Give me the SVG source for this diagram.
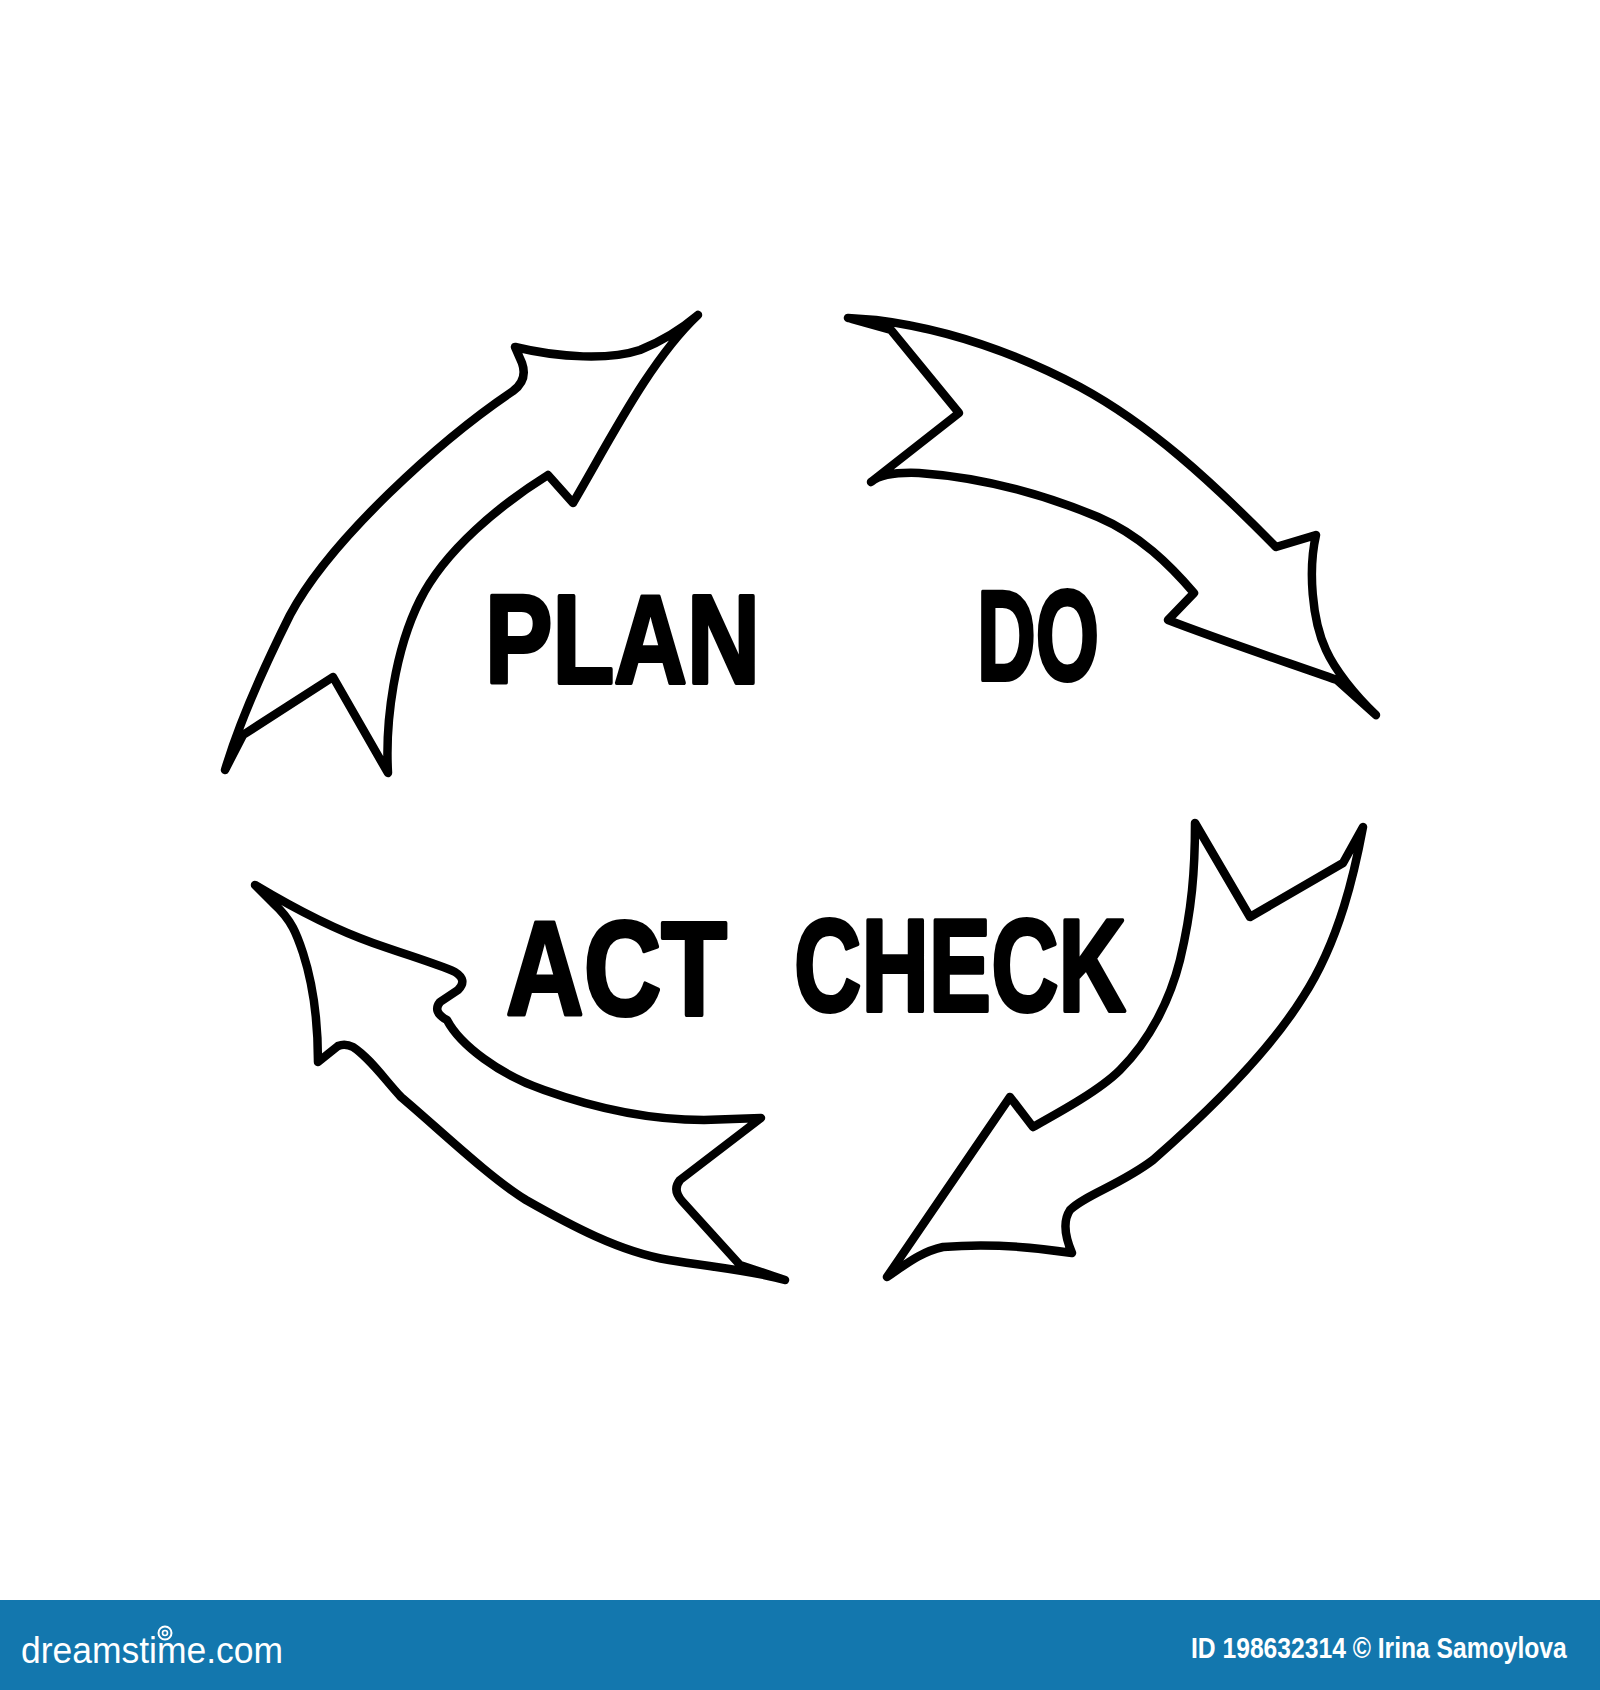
<svg xmlns="http://www.w3.org/2000/svg" width="1600" height="1690" viewBox="0 0 1600 1690">
<style>
.arrow{fill:#ffffff;stroke:#000000;stroke-width:8.5;stroke-linejoin:round;stroke-linecap:round}
.label{font-family:"Liberation Sans","DejaVu Sans",Arial,sans-serif;font-weight:bold;fill:#000000;stroke:#000000;stroke-width:4;stroke-linejoin:round}
.bar-text{font-family:"Liberation Sans","DejaVu Sans",Arial,sans-serif;fill:#ffffff}
</style>
<rect x="0" y="0" width="1600" height="1690" fill="#ffffff"/>

<g id="connectors">
  <path id="arrow-plan" class="arrow" d="M698,315 C685,326 665,340 640,350 C610,360 560,358 515,347 L522,363 Q528,380 513,391 C440,440 330,540 290,615 C265,665 240,720 225,770 L243,735 L333,677 L388,773 C385,720 395,650 420,600 C445,550 500,505 548,475 L573,503 C610,440 650,360 698,315 Z"/>
  <path id="arrow-do" class="arrow" d="M848,318 L876,320 C940,328 1010,350 1080,387 C1150,425 1210,480 1276,547 L1316,535 C1308,570 1312,620 1326,650 C1335,670 1355,695 1376,715 L1337,680 C1280,660 1220,640 1168,620 L1194,593 C1170,565 1140,535 1098,517 C1050,497 990,478 919,473 C890,472 878,476 871,482 L959,413 L891,330 Z"/>
  <path id="arrow-check" class="arrow" d="M1195,823 L1250,917 L1343,863 L1363,827 C1355,870 1340,940 1303,997 C1270,1050 1210,1110 1153,1160 C1120,1185 1085,1195 1070,1210 Q1060,1225 1072,1253 C1040,1248 990,1243 943,1247 C920,1252 905,1265 887,1277 L1010,1097 L1033,1127 C1060,1112 1100,1090 1120,1070 C1150,1040 1170,1000 1180,960 C1192,910 1195,870 1195,823 Z"/>
  <path id="arrow-act" class="arrow" d="M255,885 C280,900 330,928 373,943 C410,956 440,965 455,972 Q468,980 458,990 L440,1002 Q432,1012 447,1020 C460,1045 500,1075 544,1090 C600,1110 650,1120 704,1120 L761,1118 L680,1180 Q672,1190 682,1201 L740,1265 L785,1280 C760,1272 720,1268 669,1260 C620,1252 570,1225 526,1200 C490,1178 440,1130 401,1097 C385,1080 370,1058 353,1047 Q345,1043 338,1046 L318,1062 C318,1030 315,990 303,953 C297,935 292,920 273,903 Z"/>
</g>

<g id="node-plan">
  <text class="label" x="485" y="683" font-size="126" textLength="275" lengthAdjust="spacingAndGlyphs">PLAN</text>
</g>
<g id="node-do">
  <text class="label" x="977" y="680" font-size="128" textLength="122" lengthAdjust="spacingAndGlyphs">DO</text>
</g>
<g id="node-act">
  <text class="label" x="506" y="1015" font-size="134" textLength="221" lengthAdjust="spacingAndGlyphs">ACT</text>
</g>
<g id="node-check">
  <text class="label" x="794" y="1011" font-size="132" textLength="332" lengthAdjust="spacingAndGlyphs">CHECK</text>
</g>

<g id="footer">
  <rect x="0" y="1600" width="1600" height="90" fill="#1377ae"/>
  <circle cx="165" cy="1633" r="6.5" fill="none" stroke="#ffffff" stroke-width="2"/>
  <circle cx="165" cy="1633" r="2.5" fill="none" stroke="#ffffff" stroke-width="1.6"/>
  <text class="bar-text" x="21" y="1663" font-size="37" textLength="262" lengthAdjust="spacingAndGlyphs">dreamstime.com</text>
  <text class="bar-text" transform="translate(1191,1658) scale(0.85,1)" x="0" y="0" font-size="29" font-weight="bold">ID 198632314 © Irina Samoylova</text>
</g>
</svg>
